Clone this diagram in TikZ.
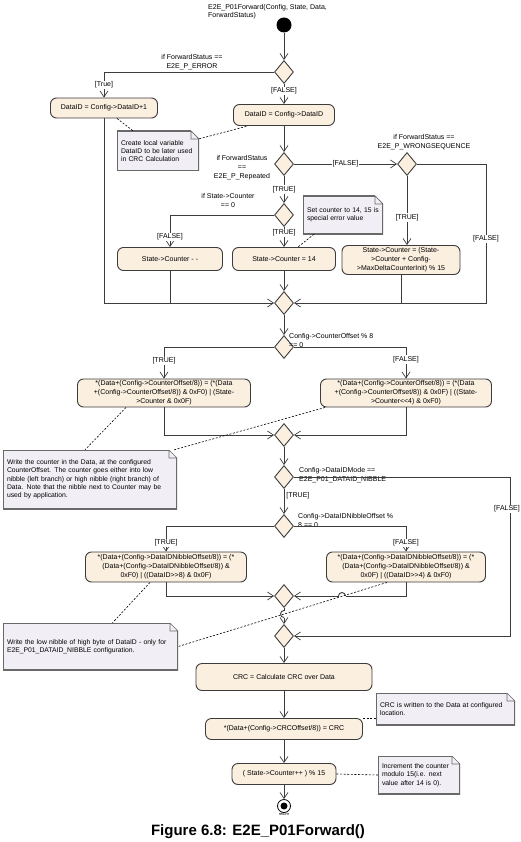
\documentclass[tikz,border=0pt]{standalone}
\usepackage{fontspec}
\setmainfont{Liberation Sans}
\usetikzlibrary{arrows.meta, positioning, calc, shapes.geometric}
\definecolor{actfill}{RGB}{251,239,224}
\definecolor{notefill}{RGB}{241,239,245}
\definecolor{flowgray}{RGB}{60,60,60}
\definecolor{notegray}{RGB}{105,105,105}
\newcommand{\actfont}{\fontsize{7}{9}\selectfont}
\newcommand{\memofont}{\fontsize{6.8}{8.3}\selectfont}
\newcommand{\gtgt}{>\kern0pt>}
\newcommand{\ltlt}{<\kern0pt<}
\tikzset{
  act/.style={rectangle, rounded corners=6pt, draw=flowgray, line width=0.9pt, fill=actfill,
    font=\actfont, align=center, inner xsep=2pt, inner ysep=1pt},
  decide/.style={diamond, draw=flowgray, line width=0.9pt, fill=actfill,
    minimum width=19pt, minimum height=23pt, inner sep=0pt},
  notebox/.style={rectangle, inner xsep=4pt, inner ysep=3pt, align=left, font=\memofont, text width=#1,
    path picture={
      \fill[notefill] (path picture bounding box.south west) -- (path picture bounding box.north west)
        -- ([xshift=-8pt]path picture bounding box.north east) -- ([yshift=-8pt]path picture bounding box.north east)
        -- (path picture bounding box.south east) -- cycle;
      \draw[notegray, line width=1.4pt] ([xshift=-8pt]path picture bounding box.north east)
        -- (path picture bounding box.north west) -- (path picture bounding box.south west)
        -- (path picture bounding box.south east) -- ([yshift=-8pt]path picture bounding box.north east);
      \draw[notegray, line width=0.7pt] ([xshift=-8pt]path picture bounding box.north east)
        -- ([yshift=-8pt]path picture bounding box.north east)
        -| ([xshift=-8pt]path picture bounding box.north east);
    }},
  flow/.style={draw=flowgray, line width=0.9pt, -{Straight Barb[length=6pt,width=8pt,line width=0.7pt]}},
  wire/.style={draw=flowgray, line width=0.9pt},
  guard/.style={fill=white, font=\actfont, inner sep=1pt},
  cond/.style={font=\actfont, align=center, inner sep=0pt},
  notelink/.style={draw=black, line width=0.6pt, dash pattern=on 2pt off 1.6pt},
}
\begin{document}
\begin{tikzpicture}[x=1pt, y=-1pt]
  \useasboundingbox (0,0) rectangle (521,842);
  % start
  \node[cond, align=left, anchor=west, font=\fontsize{7}{8}\selectfont] (title) at (208,12)
    {E2E\_P01Forward(Config, State, Data,\\ForwardStatus)};
  \node[circle, fill=black, minimum size=15pt, inner sep=0pt] (start) at (284,25) {};
  % DataID
  \node[decide] (isError) at (284,72) {};
  \node[cond] (condError) at (192,62.5) {if ForwardStatus ==\\E2E\_P\_ERROR};
  \node[act, minimum width=107pt, minimum height=20pt] (idInc) at (104,108) {DataID = Config->DataID+1};
  \node[act, minimum width=101pt, minimum height=21pt] (idCopy) at (284,115) {DataID = Config->DataID};
  \node[notebox=74pt, minimum height=40pt] (noteId) at (158,151)
    {Create local variable\\DataID to be later used\\in CRC Calculation};
  % counter
  \node[decide] (isRepeated) at (284,164) {};
  \node[cond] (condRepeated) at (242,168) {if ForwardStatus\\==\\E2E\_P\_Repeated};
  \node[decide] (isWrongSeq) at (407,164) {};
  \node[cond] (condWrongSeq) at (424,142) {if ForwardStatus ==\\E2E\_P\_WRONGSEQUENCE};
  \node[decide] (isZero) at (284,215) {};
  \node[cond] (condZero) at (228,200.5) {if State->Counter\\== 0};
  \node[act, minimum width=105pt, minimum height=23pt] (ctrDec) at (170,259) {State->Counter - -};
  \node[act, minimum width=103pt, minimum height=23pt] (ctrErr) at (284,259) {State->Counter = 14};
  \node[act, minimum width=118pt, minimum height=29pt] (ctrJump) at (401,260)
    {State->Counter = (State-\\>Counter + Config-\\>MaxDeltaCounterInit) \% 15};
  \node[notebox=72pt, minimum height=38pt] (noteErr) at (343,215) {Set counter to 14, 15 is\\special error value};
  \node[decide] (mergeA) at (284,303) {};
  \coordinate (leftA) at (104,303);
  \coordinate (rightA) at (486,303);
  % write counter
  \node[decide] (isAligned) at (284,347) {};
  \node[cond, align=left, anchor=west] (condAligned) at (289,340.5) {Config->CounterOffset \% 8\\== 0};
  \node[act, minimum width=173pt, minimum height=28pt] (nibLow) at (164,393)
    {*(Data+(Config->CounterOffset/8)) = (*(Data\\+(Config->CounterOffset/8)) \& 0xF0) | (State-\\>Counter \& 0x0F)};
  \node[act, minimum width=171pt, minimum height=28pt] (nibHigh) at (406,393)
    {*(Data+(Config->CounterOffset/8)) = (*(Data\\+(Config->CounterOffset/8)) \& 0x0F) | ((State-\\>Counter\ltlt4) \& 0xF0)};
  \node[decide] (mergeB) at (284,435) {};
  \node[notebox=166pt, minimum height=59pt] (noteCtr) at (90,479.5)
    {Write the counter in the Data, at the configured\\CounterOffset. The counter goes either into low\\nibble (left branch) or high nibble (right branch) of\\Data. Note that the nibble next to Counter may be\\used by application.};
  % write DataID nibble
  \node[decide] (isNibble) at (284,477) {};
  \node[cond, align=left, anchor=west] (condNibble) at (299,475) {Config->DataIDMode ==\\E2E\_P01\_DATAID\_NIBBLE};
  \node[decide] (isIdAligned) at (284,526) {};
  \node[cond, align=left, anchor=west] (condIdAligned) at (298,520) {Config->DataIDNibbleOffset \%\\8 == 0};
  \node[act, minimum width=161pt, minimum height=30pt] (idLow) at (166,567)
    {*(Data+(Config->DataIDNibbleOffset/8)) = (*\\(Data+(Config->DataIDNibbleOffset/8)) \&\\0xF0) | ((DataID\gtgt8) \& 0x0F)};
  \node[act, minimum width=159pt, minimum height=30pt] (idHigh) at (406,567)
    {*(Data+(Config->DataIDNibbleOffset/8)) = (*\\(Data+(Config->DataIDNibbleOffset/8)) \&\\0x0F) | ((DataID\gtgt4) \& 0xF0)};
  \node[decide] (mergeC) at (284,596) {};
  \node[decide] (mergeD) at (284,636) {};
  \coordinate (rightB) at (510,636);
  \coordinate (hopA) at (342,596);
  \coordinate (hopB) at (284,614);
  \node[notebox=167pt, minimum height=47pt] (noteNib) at (90.5,646.5)
    {Write the low nibble of high byte of DataID - only for\\E2E\_P01\_DATAID\_NIBBLE configuration.};
  % CRC
  \node[act, minimum width=176pt, minimum height=27pt] (crcCalc) at (284,677) {CRC = Calculate CRC over Data};
  \node[act, minimum width=157pt, minimum height=21pt] (crcWrite) at (284,729) {*(Data+(Config->CRCOffset/8)) = CRC};
  \node[notebox=131pt, minimum height=32pt] (noteCrc) at (445.5,709) {CRC is written to the Data at configured\\location.};
  \node[act, minimum width=104pt, minimum height=21pt] (ctrInc) at (284,774) {( State->Counter++ ) \% 15};
  \node[notebox=74pt, minimum height=38pt] (noteInc) at (419,775) {Increment the counter\\modulo 15(i.e. next\\value after 14 is 0).};
  \node[circle, draw=black, line width=0.8pt, minimum size=13pt, inner sep=0pt,
    path picture={\fill (path picture bounding box.center) circle (3.5pt);}] (stop) at (284,806) {};
  \node[below=0pt of stop, inner sep=0pt, font=\fontsize{4}{4}\selectfont] (stopText) {return};
  \node[font=\bfseries\fontsize{15}{18}\selectfont] (caption) at (258,832) {Figure 6.8: E2E\_P01Forward()};

  % control flow
  \draw[flow] (start) -- (isError);
  \draw[flow] (isError.west) -| node[guard, pos=0.75] {[True]} (idInc.north);
  \draw[flow] (isError.south) -- node[guard, pos=0.35] {[FALSE]} (idCopy.north);
  \draw[flow] (idCopy.south) -- (isRepeated.north);
  \draw[flow] (isRepeated.east) -- node[guard] {[FALSE]} (isWrongSeq.west);
  \draw[flow] (isRepeated.south) -- node[guard] {[TRUE]} (isZero.north);
  \draw[flow] (isZero.west) -| node[guard, pos=0.84] {[FALSE]} (ctrDec.north);
  \draw[flow] (isZero.south) -- node[guard, pos=0.3] {[TRUE]} (ctrErr.north);
  \draw[flow] (isWrongSeq.south) -- node[guard, pos=0.6] {[TRUE]} (isWrongSeq.south |- ctrJump.north);
  \draw[flow] (isWrongSeq.east) -| node[guard, pos=0.77] {[FALSE]} (rightA) -- (mergeA.east);
  \draw[wire] (ctrJump.south) -- (ctrJump.south |- mergeA.east);
  \draw[flow] (idInc.south) -- (leftA) -- (mergeA.west);
  \draw[wire] (ctrDec.south) -- (ctrDec.south |- mergeA.west);
  \draw[flow] (ctrErr.south) -- (mergeA.north);
  \draw[flow] (mergeA.south) -- (isAligned.north);
  \draw[flow] (isAligned.west) -| node[guard, pos=0.72] {[TRUE]} (nibLow.north);
  \draw[flow] (isAligned.east) -| node[guard, pos=0.7] {[FALSE]} (nibHigh.north);
  \draw[flow] (nibLow.south) |- (mergeB.west);
  \draw[flow] (nibHigh.south) |- (mergeB.east);
  \draw[flow] (mergeB.south) -- (isNibble.north);
  \draw[flow] (isNibble.south) -- node[font=\actfont, anchor=west, inner sep=2pt, pos=0.27] {[TRUE]} (isIdAligned.north);
  \draw[flow] (isNibble.east) -| node[guard, pos=0.6, xshift=-3pt] {[FALSE]} (rightB) -- (mergeD.east);
  \draw[flow] (isIdAligned.west) -| node[guard, pos=0.83] {[TRUE]} (idLow.north);
  \draw[flow] (isIdAligned.east) -| node[guard, pos=0.83] {[FALSE]} (idHigh.north);
  \draw[flow] (idLow.south) |- (mergeC.west);
  \draw[flow] (idHigh.south) |- (mergeC.east);
  \draw[flow] (mergeC.south) -- (mergeD.north);
  \draw[flow] (mergeD.south) -- (crcCalc.north);
  \draw[flow] (crcCalc.south) -- (crcWrite.north);
  \draw[flow] (crcWrite.south) -- (ctrInc.north);
  \draw[flow] (ctrInc.south) -- (stop.north);
  % line hops
  \fill[white] ([xshift=-3.5pt,yshift=-1pt]hopA) rectangle ([xshift=3.5pt,yshift=1pt]hopA);
  \draw[wire] ([xshift=-3.5pt]hopA) arc[start angle=180, end angle=360, radius=3.5];
  \fill[white] ([xshift=-1pt,yshift=3.5pt]hopB) rectangle ([xshift=1pt,yshift=-3.5pt]hopB);
  \draw[wire] ([yshift=3.5pt]hopB) arc[start angle=270, end angle=90, radius=3.5];

  % note links
  \draw[notelink] ([xshift=13pt]idInc.south) -- ([xshift=-25pt]noteId.north);
  \draw[notelink] ([yshift=-8pt]noteId.north east) -- ([xshift=-36pt]idCopy.south);
  \draw[notelink] ([xshift=-29pt]noteErr.south) -- ([xshift=14pt]ctrErr.north);
  \draw[notelink] ([xshift=-38pt]nibLow.south) -- ([xshift=-5pt]noteCtr.north);
  \draw[notelink] ([xshift=-81pt]nibHigh.south) -- ([xshift=-3pt]noteCtr.north east);
  \draw[notelink] ([xshift=-16pt]idLow.south) -- ([xshift=22pt]noteNib.north);
  \draw[notelink] ([xshift=-19pt]idHigh.south) -- (noteNib.east);
  \draw[notelink] (crcWrite.north east) -- (crcWrite.north east -| noteCrc.west);
  \draw[notelink] (ctrInc.east) -- (noteInc.west);
\end{tikzpicture}
\end{document}
